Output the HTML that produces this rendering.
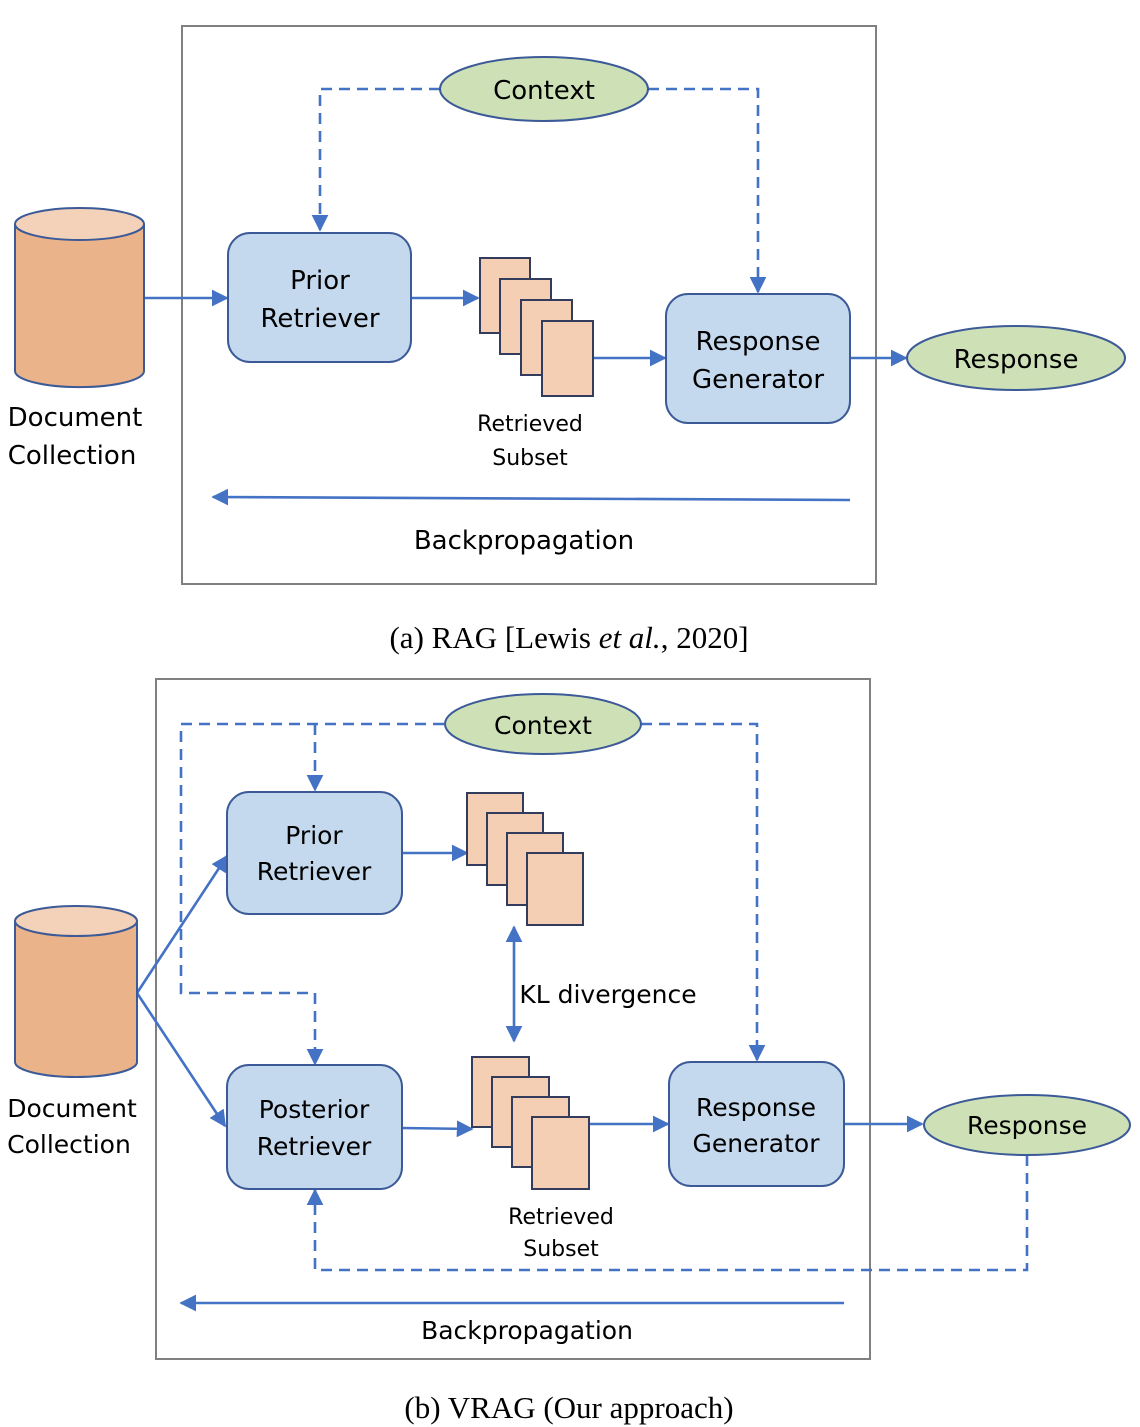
<!DOCTYPE html>
<html><head><style>body{margin:0;background:#fff}svg{display:block}</style></head><body>
<svg width="1140" height="1427" viewBox="0 0 1140 1427" xmlns="http://www.w3.org/2000/svg" font-family="'DejaVu Sans','Liberation Sans',sans-serif">
<defs>
<marker id="a" viewBox="0 0 10 10" refX="9" refY="5" markerWidth="6.5" markerHeight="6.5" orient="auto-start-reverse"><path d="M0,0L10,5L0,10z" fill="#4472c4"/></marker>
</defs>
<g fill="none" stroke="#808080" stroke-width="2">
<rect x="182" y="26" width="694" height="558"/>
<rect x="156" y="679" width="714" height="680"/>
</g>
<!-- (a) -->
<g stroke="#4472c4" stroke-width="2.6" fill="none">
<path d="M440,89H320V230" stroke-dasharray="11,7" marker-end="url(#a)"/>
<path d="M648,89H758V292" stroke-dasharray="11,7" marker-end="url(#a)"/>
<path d="M145,298H227" marker-end="url(#a)"/>
<path d="M411,298H478" marker-end="url(#a)"/>
<path d="M593,358H665" marker-end="url(#a)"/>
<path d="M850,358H906" marker-end="url(#a)"/>
<path d="M850,500L213,497" marker-end="url(#a)"/>
</g>
<g stroke="#3b5a97" stroke-width="2">
<path d="M15,224V371A64,16 0 0 0 144,371V224" fill="#ebb38a"/>
<ellipse cx="79.5" cy="224" rx="64.5" ry="16" fill="#f3d2b9"/>
<rect x="228" y="233" width="183" height="129" rx="22" fill="#c5d9ee"/>
<rect x="666" y="294" width="184" height="129" rx="22" fill="#c5d9ee"/>
<ellipse cx="544" cy="89" rx="104" ry="32" fill="#cde0b6"/>
<ellipse cx="1016" cy="358" rx="109" ry="32" fill="#cde0b6"/>
<g fill="#f5cfb3" stroke="#333c5c">
<rect x="480" y="258" width="50" height="75"/><rect x="500" y="279" width="51" height="75"/><rect x="521" y="300" width="51" height="75"/><rect x="542" y="321" width="51" height="75"/>
</g>
</g>
<g font-size="26" text-anchor="middle" fill="#000">
<text x="544" y="99">Context</text>
<text x="320" y="289">Prior</text><text x="320" y="327">Retriever</text>
<text x="758" y="350">Response</text><text x="758" y="388">Generator</text>
<text x="1016" y="368">Response</text>
<text x="524" y="549">Backpropagation</text>
<text x="75" y="426">Document</text><text x="72" y="464">Collection</text>
<text x="530" y="431" font-size="22">Retrieved</text><text x="530" y="465" font-size="22">Subset</text>
</g>
<text x="569" y="648" font-size="31" text-anchor="middle" font-family="'Liberation Serif',serif">(a) RAG [Lewis <tspan font-style="italic">et al.</tspan>, 2020]</text>
<!-- (b) -->
<g stroke="#4472c4" stroke-width="2.6" fill="none">
<path d="M444,724H181V993H315V1064" stroke-dasharray="11,7" marker-end="url(#a)"/>
<path d="M315,724V790" stroke-dasharray="11,7" marker-end="url(#a)"/>
<path d="M641,724H757V1060" stroke-dasharray="11,7" marker-end="url(#a)"/>
<path d="M1027,1155V1270H315V1190" stroke-dasharray="11,7" marker-end="url(#a)"/>
<path d="M137,993L227,856" marker-end="url(#a)"/>
<path d="M137,993L225,1126" marker-end="url(#a)"/>
<path d="M402,853H467" marker-end="url(#a)"/>
<path d="M402,1128L472,1129" marker-end="url(#a)"/>
<path d="M589,1124H668" marker-end="url(#a)"/>
<path d="M844,1124H922" marker-end="url(#a)"/>
<path d="M514,927V1041" marker-start="url(#a)" marker-end="url(#a)"/>
<path d="M844,1303H181" marker-end="url(#a)"/>
</g>
<g stroke="#3b5a97" stroke-width="2">
<path d="M15,921V1062A61,15 0 0 0 137,1062V921" fill="#ebb38a"/>
<ellipse cx="76" cy="921" rx="61" ry="15" fill="#f3d2b9"/>
<rect x="227" y="792" width="175" height="122" rx="22" fill="#c5d9ee"/>
<rect x="227" y="1065" width="175" height="124" rx="22" fill="#c5d9ee"/>
<rect x="669" y="1062" width="175" height="124" rx="22" fill="#c5d9ee"/>
<ellipse cx="543" cy="724" rx="98" ry="30" fill="#cde0b6"/>
<ellipse cx="1027" cy="1125" rx="103" ry="30" fill="#cde0b6"/>
<g fill="#f5cfb3" stroke="#333c5c">
<rect x="467" y="793" width="56" height="72"/><rect x="487" y="813" width="56" height="72"/><rect x="507" y="833" width="56" height="72"/><rect x="527" y="853" width="56" height="72"/>
<rect x="472" y="1057" width="57" height="70"/><rect x="492" y="1077" width="57" height="70"/><rect x="512" y="1097" width="57" height="70"/><rect x="532" y="1117" width="57" height="72"/>
</g>
</g>
<g font-size="25" text-anchor="middle" fill="#000">
<text x="543" y="734">Context</text>
<text x="314" y="844">Prior</text><text x="314" y="880">Retriever</text>
<text x="314" y="1118">Posterior</text><text x="314" y="1155">Retriever</text>
<text x="756" y="1116">Response</text><text x="756" y="1152">Generator</text>
<text x="1027" y="1134">Response</text>
<text x="608" y="1003">KL divergence</text>
<text x="527" y="1339">Backpropagation</text>
<text x="72" y="1117">Document</text><text x="69" y="1153">Collection</text>
<text x="561" y="1224" font-size="22">Retrieved</text><text x="561" y="1256" font-size="22">Subset</text>
</g>
<text x="569" y="1418" font-size="31" text-anchor="middle" font-family="'Liberation Serif',serif">(b) VRAG (Our approach)</text>
</svg>
</body></html>
